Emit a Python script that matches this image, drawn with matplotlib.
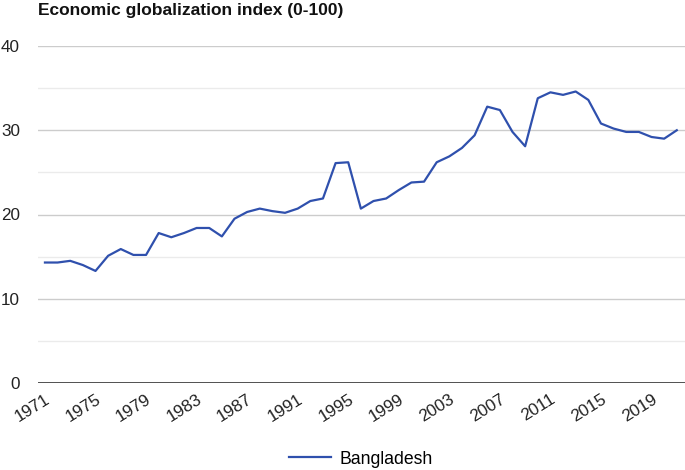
import matplotlib
matplotlib.use('Agg')
import matplotlib.pyplot as plt
import numpy as np

plt.rcParams['font.family'] = ['Liberation Sans', 'DejaVu Sans']

# Bangladesh, economic globalization index (0-100)
years = np.arange(1971, 2022)
values = [14.3, 14.3, 14.5, 14.0, 13.3, 15.1, 15.9, 15.2, 15.2, 17.8,
          17.3, 17.8, 18.4, 18.4, 17.4, 19.5, 20.3, 20.7, 20.4, 20.2,
          20.7, 21.6, 21.9, 26.1, 26.2, 20.7, 21.6, 21.9, 22.9, 23.8,
          23.9, 26.2, 26.9, 27.9, 29.4, 32.8, 32.4, 29.8, 28.1, 33.8,
          34.5, 34.2, 34.6, 33.6, 30.8, 30.2, 29.8, 29.8, 29.2, 29.0,
          30.0]
tick_years = list(range(1971, 2020, 4))
y_major = [0, 10, 20, 30, 40]
y_minor = [5, 15, 25, 35]

fig = plt.figure(figsize=(6.85, 4.7), dpi=100)
ax = fig.add_axes([38 / 685, 1 - 383 / 470, 1 - 38 / 685, (383 - 46) / 470])

# grid lines drawn by hand so the minor ones can be lighter
for v in y_minor:
    ax.axhline(v, color='#ebebeb', lw=1, zorder=1)
for v in y_major[1:]:
    ax.axhline(v, color='#cccccc', lw=1, zorder=1)
ax.axhline(0, color='#333333', lw=1.2, zorder=2)

line, = ax.plot(years, values, color='#2f50ad', lw=1.6, zorder=3, label='Bangladesh')

ax.set_xlim(1970.45, 2021.65)
ax.set_ylim(0, 40)
ax.set_yticks(y_major)
ax.set_xticks(tick_years)
ax.tick_params(axis='y', length=0, pad=13, labelsize=12.3, labelcolor='#222222')
ax.tick_params(axis='x', length=0, pad=6, labelsize=12.3, labelcolor='#222222')
for lab in ax.get_yticklabels():
    lab.set_horizontalalignment('right')
for lab in ax.get_xticklabels():
    lab.set_rotation(32)
    lab.set_horizontalalignment('right')
    lab.set_rotation_mode('anchor')
for s in ax.spines.values():
    s.set_visible(False)

fig.text(38 / 685, 1 - 10 / 470, 'Economic globalization index (0-100)',
         fontsize=12.5, fontweight='bold', va='center', ha='left', color='#111111')

fig.legend(handles=[line], loc='center', bbox_to_anchor=(0.527, 1 - 459 / 470),
           frameon=False, fontsize=12.7, handlelength=2.4, handletextpad=0.5)

fig.savefig('out.png', dpi=100)
